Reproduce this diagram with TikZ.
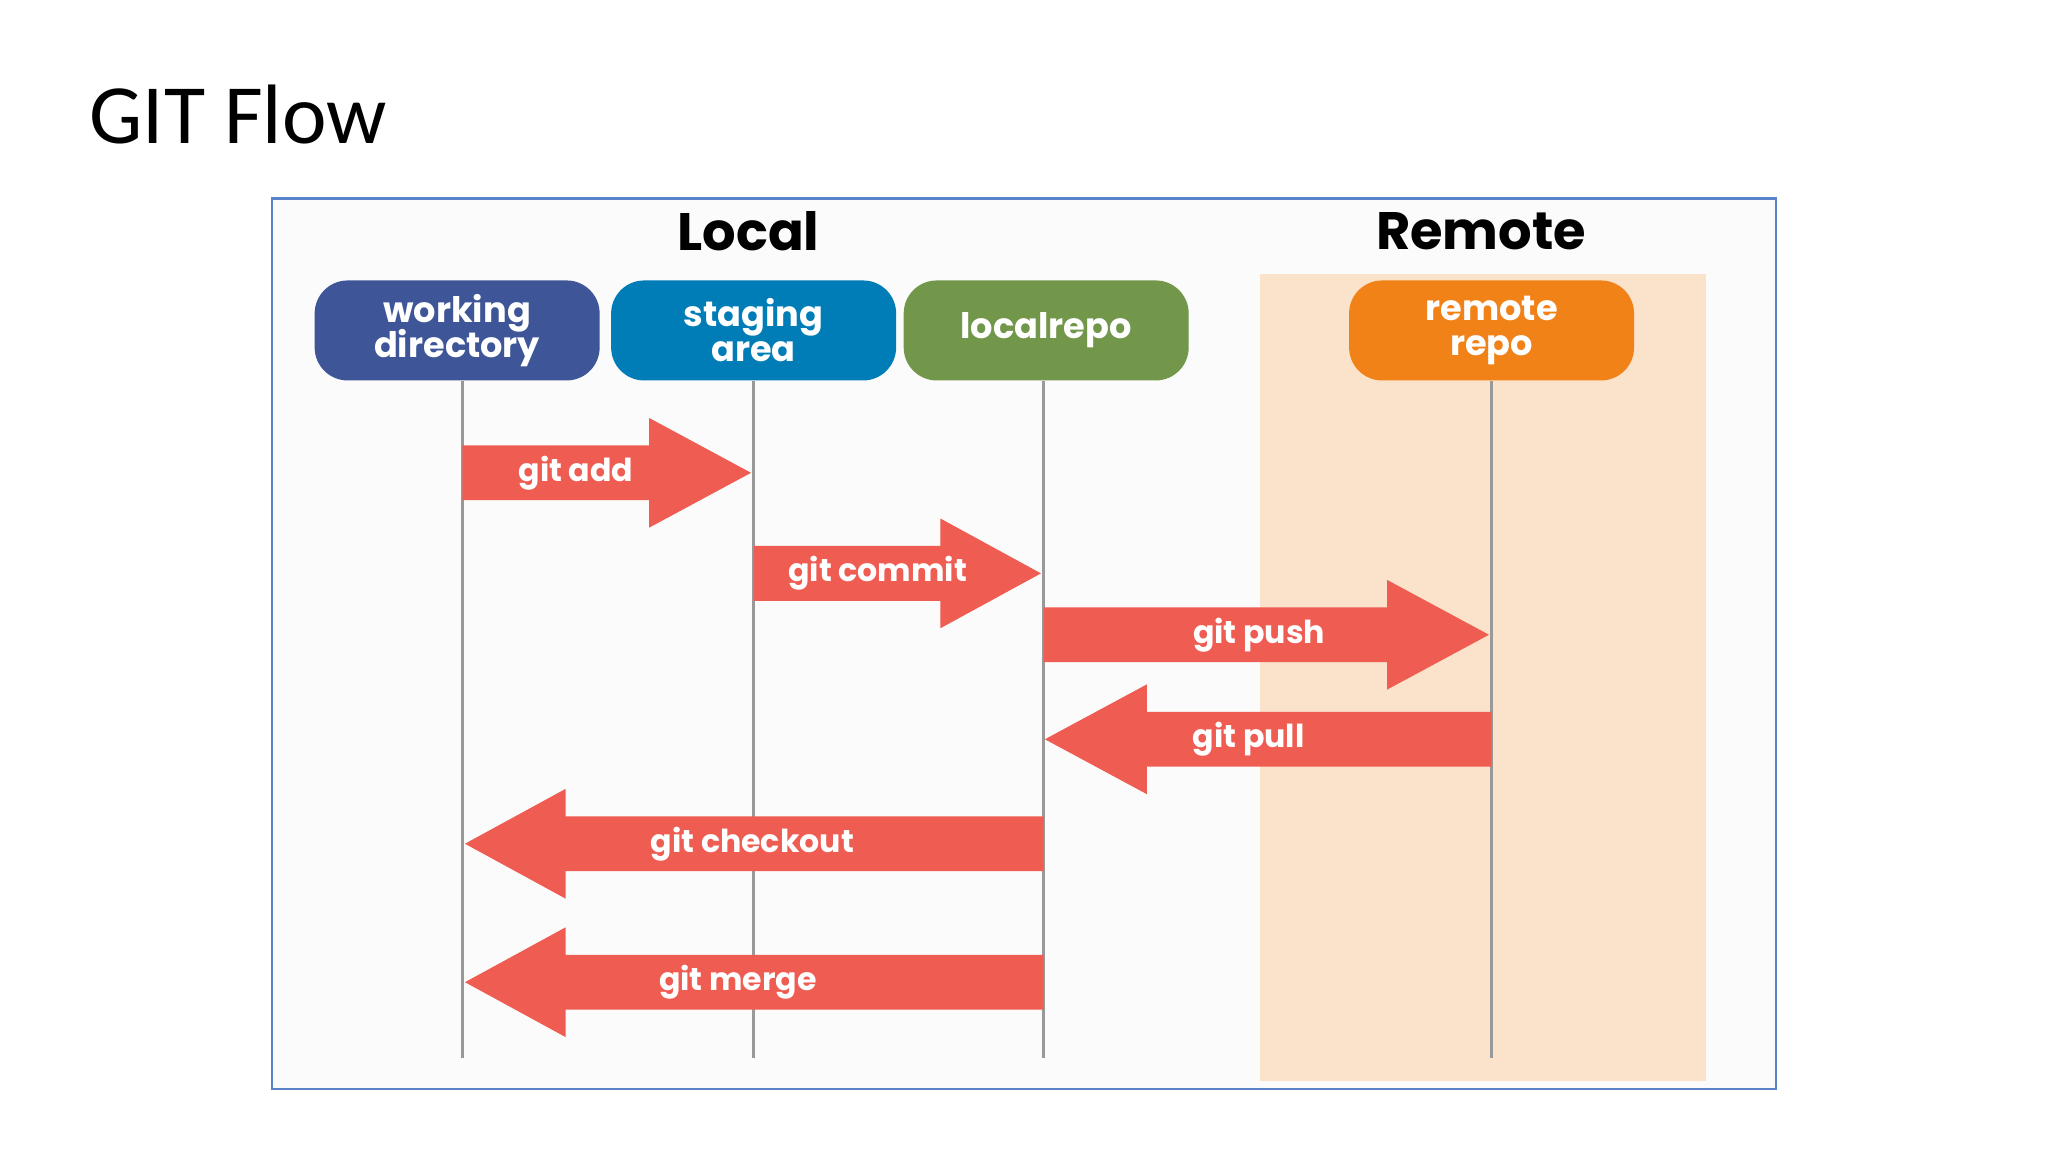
\documentclass[tikz,border=0pt]{standalone}
\usepackage{fontspec}
\setmainfont{Poppins}
\newfontfamily\titlefont{Carlito}
\definecolor{arr}{RGB}{239,92,82}
\definecolor{wd}{RGB}{62,86,152}
\definecolor{sa}{RGB}{0,124,182}
\definecolor{lr}{RGB}{114,150,74}
\definecolor{rr}{RGB}{241,130,24}
\definecolor{band}{RGB}{251,226,203}
\definecolor{frame}{RGB}{90,130,200}
\newcommand{\blockarrow}[4]{% x1 (tail), x2 (tip), y, head start x
  \fill[arr] (#1,#3-21) -- (#4,#3-21) -- (#4,#3-42) -- (#2,#3) -- (#4,#3+42) -- (#4,#3+21) -- (#1,#3+21) -- cycle;}
\begin{document}
\begin{tikzpicture}[x=0.013061cm,y=-0.013061cm,
  box/.style={rounded corners=0.33cm,minimum width=2.85cm,minimum height=1cm,text=white,font=\fontsize{10}{12}\selectfont\bfseries,align=center,inner sep=0pt},
  vline/.style={draw=gray!80,line width=0.8pt},
  lab/.style={text=white,font=\fontsize{9}{11}\selectfont\bfseries},
  head/.style={font=\fontsize{15}{17}\selectfont\bfseries}]
\useasboundingbox (0,0) rectangle (1568,882);
\fill[white] (0,0) rectangle (1568,882);
\node[anchor=base west,inner sep=0pt,font=\titlefont\fontsize{24}{28}\selectfont] (title) at (68,110) {GIT Flow};
\draw[frame,line width=0.6pt,fill=gray!3] (208,152) rectangle (1360,834);
\fill[band] (965,210) rectangle (1306,828);
\node[head] (local) at (573,177) {Local};
\node[head] (remote) at (1134,177) {Remote};
\node[box,fill=wd] (wdir) at (350,253) {working\\[-2pt]directory};
\node[box,fill=sa] (stage) at (577,253) {staging\\[-2pt]area};
\node[box,fill=lr] (lrepo) at (801,253) {localrepo};
\node[box,fill=rr] (rrepo) at (1142,253) {remote\\[-2pt]repo};
\coordinate (e1) at (354,810); \coordinate (e2) at (577,810);
\coordinate (e3) at (799,810); \coordinate (e4) at (1142,810);
\draw[vline] (wdir.south -| e1) -- (e1);
\draw[vline] (stage.south -| e2) -- (e2);
\draw[vline] (lrepo.south -| e3) -- (e3);
\draw[vline] (rrepo.south -| e4) -- (e4);
\blockarrow{354}{575}{362}{497}
\node[lab] (add) at (441,362) {git add};
\blockarrow{577}{797}{439}{720}
\node[lab] (commit) at (672,439) {git commit};
\blockarrow{799}{1140}{486}{1062}
\node[lab] (push) at (964,486) {git push};
\blockarrow{1142}{800}{566}{878}
\node[lab] (pull) at (956,566) {git pull};
\blockarrow{799}{356}{646}{433}
\node[lab] (checkout) at (576,646) {git checkout};
\blockarrow{799}{356}{752}{433}
\node[lab] (merge) at (565,752) {git merge};
\end{tikzpicture}
\end{document}
